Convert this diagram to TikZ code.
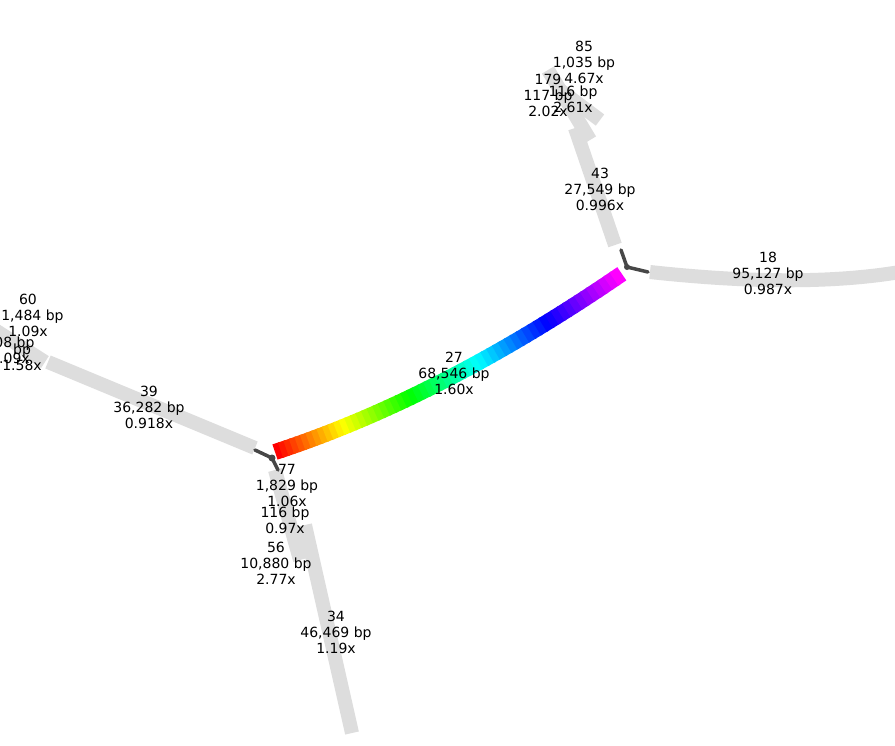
\documentclass[tikz,border=0pt]{standalone}
\usepackage{fontspec}
\setmainfont{DejaVu Sans}
\selectcolormodel{rgb}
\begin{document}
\begin{tikzpicture}[x=1pt,y=-1pt,
  seg/.style={line width=14pt,draw=gray!27,line cap=butt},
  link/.style={line width=3.5pt,draw=black!72,line cap=round},
  lbl/.style={align=center,font=\fontsize{14}{16}\selectfont,inner sep=0pt,text=black}]
\useasboundingbox[fill=white] (0,0) rectangle (895,745);
% gray segments
\draw[seg] (650,272) .. controls (760,284) and (840,282) .. (900,272);
\draw[seg] (575,128) -- (615,245);
\draw[seg] (548,70) -- (590,140);
\draw[seg] (560,90) -- (600,120);
\draw[seg] (48,362) -- (255,448);
\draw[seg] (-5,330) -- (45,362);
\draw[seg] (305,525) -- (352,733);
\draw[seg] (275,470) -- (300,560);
% dark links
\coordinate (j1) at (272,458);
\coordinate (j2) at (627,267);
\draw[link] (255,450) -- (j1) -- (278,470);
\draw[link] (621,250) -- (j2) -- (648,272);
\fill[black!72] (j1) circle (3.5pt);
\fill[black!72] (j2) circle (3pt);
% rainbow node 27
\foreach \i in {0,...,59}{
  \pgfmathsetmacro{\ta}{\i/60}
  \pgfmathsetmacro{\tb}{(\i+1.3)/60}
  \pgfmathsetmacro{\xa}{(1-\ta)*(1-\ta)*275+2*(1-\ta)*\ta*440+\ta*\ta*620}
  \pgfmathsetmacro{\ya}{(1-\ta)*(1-\ta)*452+2*(1-\ta)*\ta*398+\ta*\ta*275}
  \pgfmathsetmacro{\xb}{(1-\tb)*(1-\tb)*275+2*(1-\tb)*\tb*440+\tb*\tb*620}
  \pgfmathsetmacro{\yb}{(1-\tb)*(1-\tb)*452+2*(1-\tb)*\tb*398+\tb*\tb*275}
  \pgfmathsetmacro{\hu}{\i*0.01412}
  \definecolor{rb}{hsb}{\hu,1,1}
  \draw[line width=16pt,draw=rb] (\xa,\ya) -- (\xb,\yb);
}
% labels
\node[lbl] (n18) at (768,273) {18\\95,127 bp\\0.987x};
\node[lbl] (n43) at (600,189) {43\\27,549 bp\\0.996x};
\node[lbl] (n85) at (584,62) {85\\1,035 bp\\4.67x};
\node[lbl] (n17) at (548,95) {179\\117 bp\\2.02x};
\node[lbl] (n2) at (573,97) {\\116 bp\\2.61x};
\node[lbl] (n27) at (454,373) {27\\68,546 bp\\1.60x};
\node[lbl] (n39) at (149,407) {39\\36,282 bp\\0.918x};
\node[lbl] (n60) at (28,315) {60\\31,484 bp\\1.09x};
\node[lbl] (n62) at (10,348) {\\108 bp\\1.09x};
\node[lbl] (n63) at (22,355) {\\bp\\1.58x};
\node[lbl] (n77) at (287,485) {77\\1,829 bp\\1.06x};
\node[lbl] (n5) at (285,518) {\\116 bp\\0.97x};
\node[lbl] (n56) at (276,563) {56\\10,880 bp\\2.77x};
\node[lbl] (n34) at (336,632) {34\\46,469 bp\\1.19x};
\end{tikzpicture}
\end{document}
